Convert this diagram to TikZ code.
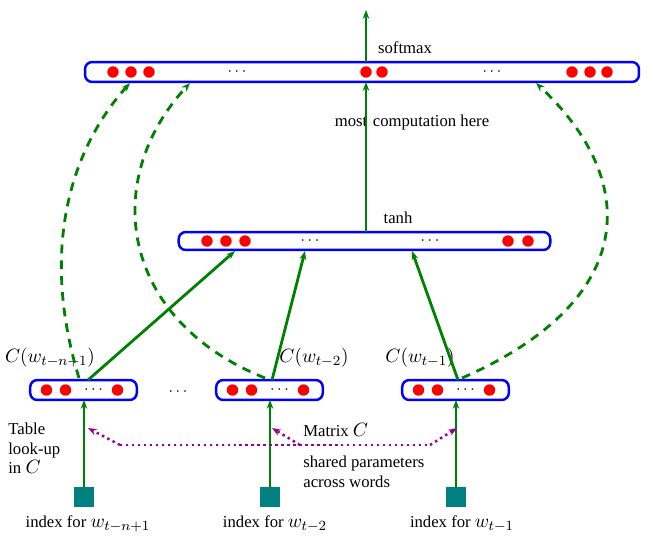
\documentclass[tikz,border=0pt]{standalone}
\usepackage{fontspec}
\setmainfont{Liberation Serif}
\usetikzlibrary{arrows.meta}
\begin{document}
\begin{tikzpicture}[x=0.02cm,y=-0.02cm,font=\fontsize{9.5}{11}\selectfont,
  bar/.style={draw=blue,line width=1.4pt,rounded corners=4pt,inner sep=0},
  dot/.style={circle,fill=red,inner sep=0,minimum width=6.5pt},
  g/.style={draw=green!50!black,line width=1.6pt,-{Stealth[length=5pt]}},
  gd/.style={g,dashed,dash pattern=on 5pt off 4pt},
  sq/.style={fill=teal,minimum size=11pt,inner sep=0},
  pu/.style={draw=violet!80!magenta,line width=1.4pt,dotted}]
\useasboundingbox (0,0) rectangle (668,542);
% softmax bar
\node[bar,minimum width=556*0.567pt,minimum height=20*0.567pt] (S) at (362,72) {};
\foreach \x/\n in {113/s1,131/s2,149/s3,366/s4,382/s5,572/s6,590/s7,607/s8}
  \node[dot] (\n) at (\x,72) {};
\node (sd1) at (237,72) {$\cdots$};
\node (sd2) at (492,72) {$\cdots$};
\node (Sl) at (405,48) {softmax};
\coordinate (top) at (366,10);
% tanh bar
\node[bar,minimum width=373*0.567pt,minimum height=18*0.567pt] (T) at (364.5,241) {};
\foreach \x/\n in {207/t1,226/t2,245/t3,508/t4,528/t5}
  \node[dot] (\n) at (\x,241) {};
\node (td1) at (310,241) {$\cdots$};
\node (td2) at (430,241) {$\cdots$};
\node (Tl) at (398,218) {tanh};
\node (mc) at (412,122) {most\,\,computation here};
\draw[g] (366,232) -- (366,82);
\draw[g] (366,62) -- (top);
% lower bars
\foreach \c/\i in {83.5/a,269.5/b,455.5/c}{
  \node[bar,minimum width=107*0.567pt,minimum height=20*0.567pt] (B\i) at (\c,390) {};
  \node[dot] (B\i1) at (\c-37,390) {};
  \node[dot] (B\i2) at (\c-18,390) {};
  \node (B\i d) at (\c+10,390) {$\cdots$};
  \node[dot] (B\i3) at (\c+34,390) {};
  \node[sq] (Q\i) at (\c+0.5,497) {};
  \draw[g] (Q\i.north) -- (\c+0.5,400);
}
\node (md) at (178,392) {$\cdots$};
\node (La) at (50,358) {\fontsize{11}{12}\selectfont$C(w_{t-n+1})$};
\node (Lb) at (314,358) {\fontsize{11}{12}\selectfont$C(w_{t-2})$};
\node (Lc) at (420,358) {\fontsize{11}{12}\selectfont$C(w_{t-1})$};
\node (Ia) at (88,524) {index for \fontsize{11}{12}\selectfont$w_{t-n+1}$};
\node (Ib) at (275,524) {index for \fontsize{11}{12}\selectfont$w_{t-2}$};
\node (Ic) at (462,524) {index for \fontsize{11}{12}\selectfont$w_{t-1}$};
% solid connections
\draw[g] (88,380) -- (235,251);
\draw[g] (272,380) -- (305,251);
\draw[g] (458,380) -- (412,251);
% dashed
\draw[gd] (79,378) .. controls (40,250) and (70,150) .. (130,83);
\draw[gd] (265,378) .. controls (120,320) and (100,180) .. (190,83);
\draw[gd] (462,378) .. controls (640,300) and (640,180) .. (536,83);
% purple
\draw[pu] (120,445) -- (430,445);
\draw[pu,-{Stealth[length=5pt]}] (120,445) -- (88,428);
\draw[pu,-{Stealth[length=5pt]}] (300,445) -- (272,428);
\draw[pu,-{Stealth[length=5pt]}] (430,445) -- (457,428);
\node[align=left,anchor=north west,inner sep=0] (tab) at (8,423) {Table\\look-up\\in \fontsize{11}{12}\selectfont$C$};
\node[anchor=west,inner sep=0] (mat) at (303,430) {Matrix \fontsize{11}{12}\selectfont$C$};
\node[align=left,anchor=north west,inner sep=0] (sh) at (303,456) {shared parameters\\across words};
\end{tikzpicture}
\end{document}
